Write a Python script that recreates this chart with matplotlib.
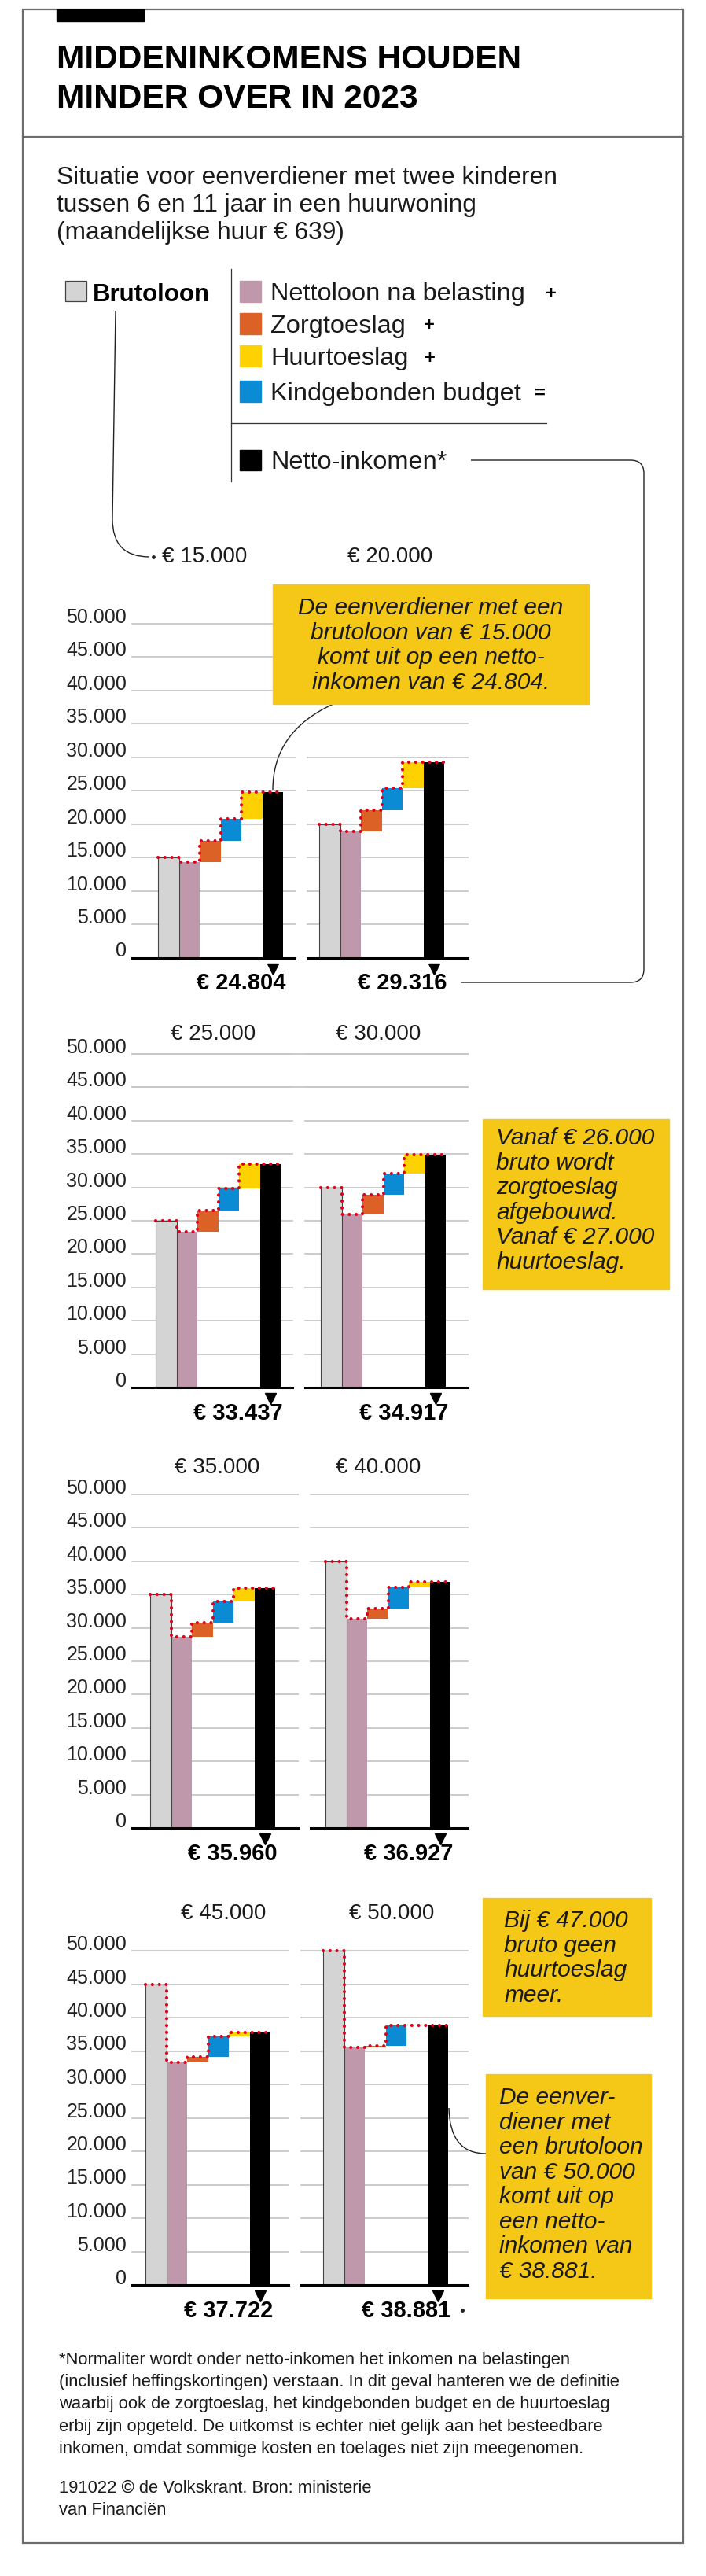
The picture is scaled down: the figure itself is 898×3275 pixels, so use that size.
import matplotlib
matplotlib.use("Agg")
import matplotlib.pyplot as plt
from matplotlib.patches import Rectangle, PathPatch
from matplotlib.path import Path
from matplotlib.transforms import offset_copy

# ---- data (read from the graphic) ----
brutoloon     = [15000, 20000, 25000, 30000, 35000, 40000, 45000, 50000]
nettoloon     = [14300, 18900, 23300, 26000, 28700, 31400, 33300, 35500]
zorgtoeslag   = [3200, 3200, 3200, 2900, 2100, 1500, 800, 250]
kindgebonden  = [3250, 3250, 3350, 3150, 3150, 3200, 3100, 3131]
huurtoeslag   = [4054, 3966, 3587, 2867, 2010, 827, 522, 0]
netto_inkomen = [24804, 29316, 33437, 34917, 35960, 36927, 37722, 38881]

yticks = [0, 5000, 10000, 15000, 20000, 25000, 30000, 35000, 40000, 45000, 50000]
legend_labels = ["Nettoloon na belasting", "Zorgtoeslag", "Huurtoeslag", "Kindgebonden budget"]
legend_signs = ["+", "+", "+", "="]

# ---- style ----
FONT = "Liberation Sans"
plt.rcParams["font.family"] = [FONT, "DejaVu Sans"]
TXT = "#1a1a1a"
GRAY, PINK, ORANGE, BLUE, YELLOW = "#d4d4d4", "#bf98ab", "#dc6127", "#0b8bd3", "#fdd200"
BOXY = "#f5c817"
RED = "#e0001b"
GRID = "#c8c8c8"
BAR_COLORS = [GRAY, PINK, ORANGE, BLUE, YELLOW, "black"]
LEGEND_COLORS = [PINK, ORANGE, YELLOW, BLUE]

W, H = 898, 3275
PT = 0.72  # points per pixel at dpi 100
SLOT = 26.5

# panel layout (pixels)
row_top = [793, 1340, 1900, 2480]       # y of 50.000
row_zero = [1217.5, 1764, 2324, 2905]   # y of 0
left_x1 = [375, 372, 379, 367]
right_x0 = [391, 388, 395, 383]
gray_left = [[201, 406], [198, 408], [191, 414], [185, 411]]
title_y = [708, 1315, 1866, 2433]
title_x = [[260, 496], [271, 481], [276, 481], [284, 498]]


def eur(v):
    return "€ " + f"{v:,}".replace(",", ".")


fig = plt.figure(figsize=(W / 100, H / 100), dpi=100)

ov = fig.add_axes([0, 0, 1, 1])
ov.set_xlim(0, W)
ov.set_ylim(H, 0)
ov.axis("off")
ov.set_zorder(5)

# frame, header
ov.add_patch(Rectangle((29, 12), 840, 3221, fill=False, edgecolor="#6d6d6d", lw=1.6))
ov.plot([29, 869], [174, 174], color="#6d6d6d", lw=1.6)
ov.add_patch(Rectangle((72, 12), 111, 15, color="black"))
ov.text(72, 87, "MIDDENINKOMENS HOUDEN", fontsize=30.5, fontweight="bold", color="black", va="baseline")
ov.text(72, 137, "MINDER OVER IN 2023", fontsize=30.5, fontweight="bold", color="black", va="baseline")
ov.text(72, 211, "Situatie voor eenverdiener met twee kinderen\ntussen 6 en 11 jaar in een huurwoning\n(maandelijkse huur € 639)",
        fontsize=22.8, color=TXT, va="top", linespacing=1.22)

# legend
ov.add_patch(Rectangle((83, 357), 27, 26, facecolor=GRAY, edgecolor="#444", lw=0.9))
ov.text(118, 383, "Brutoloon", fontsize=22.5, fontweight="bold", color="black", va="baseline")
ov.plot([294, 294], [342, 612], color="#333", lw=0.9)
ov.plot([294, 695], [538, 538], color="#333", lw=0.9)
row_c = [371, 412, 453, 498]
sign_x = [701, 546, 547, 687]
for lab, col, s, yc, sx in zip(legend_labels, LEGEND_COLORS, legend_signs, row_c, sign_x):
    ov.add_patch(Rectangle((305, yc - 14), 27, 27, color=col))
    ov.text(344, yc + 11, lab, fontsize=23.4, color=TXT, va="baseline")
    ov.text(sx, yc + 2, s, fontsize=17, fontweight="bold", color="black", va="center", ha="center")
ov.add_patch(Rectangle((305, 572), 27, 26, color="black"))
ov.text(344, 596, "Netto-inkomen*", fontsize=23.4, color=TXT, va="baseline")

# connectors
brut = Path([(147, 395), (143, 660), (143, 708), (190, 708)],
            [Path.MOVETO, Path.LINETO, Path.CURVE3, Path.CURVE3])
ov.add_patch(PathPatch(brut, fill=False, edgecolor="#222", lw=1.0))
ov.plot(195, 708, "o", ms=2.5, color="#222")
net = Path([(599, 585), (802, 585), (819, 585), (819, 602), (819, 1232), (819, 1249), (802, 1249), (586, 1249)],
           [Path.MOVETO, Path.LINETO, Path.CURVE3, Path.CURVE3, Path.LINETO, Path.CURVE3, Path.CURVE3, Path.LINETO])
ov.add_patch(PathPatch(net, fill=False, edgecolor="#222", lw=1.0))

# annotation boxes
ov.add_patch(Rectangle((347, 743), 402, 152, color=BOXY, zorder=3))
ov.text(548, 759, "De eenverdiener met een\nbrutoloon van € 15.000\nkomt uit op een netto-\ninkomen van € 24.804.",
        fontsize=21.5, style="italic", color=TXT, ha="center", va="top", linespacing=1.16, zorder=4)
c1 = Path([(424, 895), (347, 930), (347, 1004)], [Path.MOVETO, Path.CURVE3, Path.CURVE3])
ov.add_patch(PathPatch(c1, fill=False, edgecolor="#222", lw=1.0))

ov.add_patch(Rectangle((614, 1423), 237, 216, color=BOXY))
ov.text(631, 1433, "Vanaf € 26.000\nbruto wordt\nzorgtoeslag\nafgebouwd.\nVanaf € 27.000\nhuurtoeslag.",
        fontsize=21.5, style="italic", color=TXT, va="top", linespacing=1.16)

ov.add_patch(Rectangle((614, 2413), 214, 150, color=BOXY))
ov.text(641, 2428, "Bij € 47.000\nbruto geen\nhuurtoeslag\nmeer.",
        fontsize=21.5, style="italic", color=TXT, va="top", linespacing=1.16)

ov.add_patch(Rectangle((618, 2637), 210, 285, color=BOXY))
ov.text(635, 2653, "De eenver-\ndiener met\neen brutoloon\nvan € 50.000\nkomt uit op\neen netto-\ninkomen van\n€ 38.881.",
        fontsize=21.5, style="italic", color=TXT, va="top", linespacing=1.16)
c4 = Path([(571, 2680), (572, 2738), (618, 2738)], [Path.MOVETO, Path.CURVE3, Path.CURVE3])
ov.add_patch(PathPatch(c4, fill=False, edgecolor="#222", lw=1.0))
ov.plot(588, 2937, "o", ms=2.5, color="#222")

# footer
ov.text(75, 2990, "*Normaliter wordt onder netto-inkomen het inkomen na belastingen\n"
        "(inclusief heffingskortingen) verstaan. In dit geval hanteren we de definitie\n"
        "waarbij ook de zorgtoeslag, het kindgebonden budget en de huurtoeslag\n"
        "erbij zijn opgeteld. De uitkomst is echter niet gelijk aan het besteedbare\n"
        "inkomen, omdat sommige kosten en toelages niet zijn meegenomen.",
        fontsize=15.8, color=TXT, va="top", linespacing=1.45)
ov.text(75, 3153, "191022 © de Volkskrant. Bron: ministerie\nvan Financiën",
        fontsize=15.8, color=TXT, va="top", linespacing=1.45)

# ---- waterfall panels ----
for i in range(len(brutoloon)):
    row, col = divmod(i, 2)
    x0 = 168 if col == 0 else right_x0[row]
    x1 = left_x1[row] if col == 0 else 595
    y_top, y_zero = row_top[row], row_zero[row]
    ax = fig.add_axes([x0 / W, 1 - y_zero / H, (x1 - x0) / W, (y_zero - y_top) / H])
    lo = -0.5 - (gray_left[row][col] - x0) / SLOT
    ax.set_xlim(lo, lo + (x1 - x0) / SLOT)
    ax.set_ylim(0, 50000)
    ax.axis("off")

    for v in yticks[1:]:
        ax.axhline(v, color=GRID, lw=1.3, zorder=0, clip_on=False)
    if row == 1 and col == 0:
        for v in yticks[-2:]:
            ax.plot([0, (595 - 168) / (x1 - x0)], [v, v], color=GRID, lw=1.3, zorder=0,
                    transform=ax.get_yaxis_transform(), clip_on=False)
    ax.axhline(0, color="black", lw=2.2, zorder=3, clip_on=False)

    n, z, k, h = nettoloon[i], zorgtoeslag[i], kindgebonden[i], huurtoeslag[i]
    heights = [brutoloon[i], n, z, k, h, netto_inkomen[i]]
    bottoms = [0, 0, n, n + z, n + z + k, 0]
    ax.bar(range(6), heights, bottom=bottoms, width=1.0, color=BAR_COLORS, lw=0, zorder=2)
    ax.bar(0, brutoloon[i], width=1.0, fill=False, edgecolor="#444", lw=0.8, zorder=2)

    steps = [brutoloon[i], n, n + z, n + z + k, n + z + k + h, netto_inkomen[i], netto_inkomen[i]]
    ax.plot([-0.5, 0.5, 1.5, 2.5, 3.5, 4.5, 5.5], steps, drawstyle="steps-post", color=RED,
            lw=3.0, linestyle=(0, (0.01, 2.1)), dash_capstyle="round", zorder=4, clip_on=False)

    tri = offset_copy(ax.transData, fig=fig, x=0, y=-14 * PT, units="points")
    ax.plot([5], [0], marker="v", ms=10, color="black", transform=tri, clip_on=False)
    lab = offset_copy(ax.transData, fig=fig, x=3 * PT, y=-33 * PT, units="points")
    ax.text(5.5, 0, eur(netto_inkomen[i]), transform=lab, ha="right", va="center",
            fontsize=21, fontweight="bold", color="black")

    if col == 0:
        tl = offset_copy(ax.get_yaxis_transform(), fig=fig, x=-7 * PT, y=1 * PT, units="points")
        for v in yticks:
            ax.text(0, v, f"{v:,}".replace(",", "."), transform=tl, ha="right", va="baseline",
                    fontsize=18, color="#222")

    ov.text(title_x[row][col], title_y[row], eur(brutoloon[i]), fontsize=20, color=TXT,
            ha="center", va="center")

fig.savefig("out.png", dpi=100)
